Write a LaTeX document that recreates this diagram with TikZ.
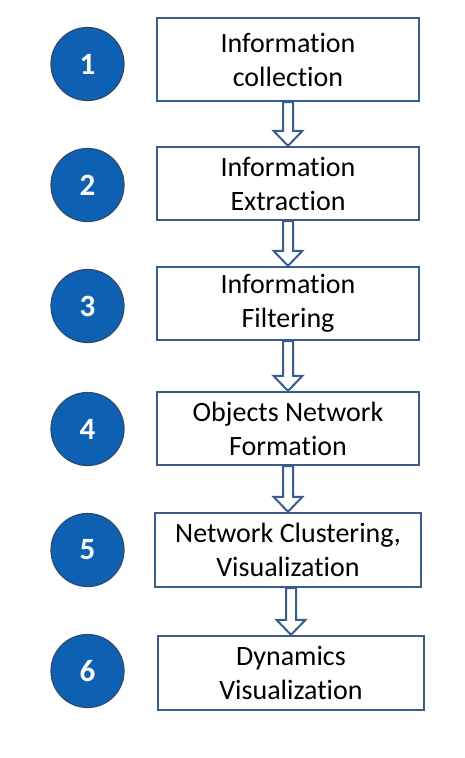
\documentclass[tikz,border=0pt]{standalone}
\usepackage{fontspec}
\setmainfont[Ligatures=NoCommon]{Carlito}
\usetikzlibrary{calc}
\definecolor{frameblue}{RGB}{56,93,138}
\definecolor{dotblue}{RGB}{14,96,178}
\tikzset{
  stepbox/.style={draw=frameblue,line width=2.4pt,fill=white,align=center,
    font=\fontsize{28}{34}\selectfont,inner sep=0pt},
  stepnum/.style={circle,draw=frameblue!80!black,line width=1.2pt,fill=dotblue,
    minimum size=73pt,inner sep=0pt,text=white,font=\fontsize{31}{34}\selectfont\bfseries},
  hollow/.style={draw=frameblue,line width=2pt,fill=white,line join=miter}
}
\begin{document}
\begin{tikzpicture}[x=1pt,y=-1pt]
\useasboundingbox (0,0) rectangle (464,758);
\foreach \i/\x/\y/\w/\h/\t in {1/288/59.5/262/83/{Information\\collection},
  2/288/183.5/262/73/{Information\\Extraction},
  3/288/303.5/262/73/{Information\\Filtering},
  4/288/428.5/262/73/{Objects Network\\Formation},
  5/288/550/266/74/{Network Clustering,\\Visualization},
  6/291/673/266/74/{Dynamics\\Visualization}}
  \node[stepbox,minimum width=\w pt,minimum height=\h pt](b\i)at(\x,\y){\t};
\foreach \i/\y in {1/64,2/185,3/306,4/429,5/550,6/671}
  \node[stepnum](n\i)at(87.5,\y){\i};
\foreach \i/\j in {1/2,2/3,3/4,4/5,5/6}
  \draw[hollow] let \p1=(b\i.south), \p2=(b\j.north) in
    (\x2,\y2) -- (\x2+14.5pt,\y2+15pt) -- (\x2+5pt,\y2+15pt) -- (\x2+5pt,\y1)
    -- (\x2-5pt,\y1) -- (\x2-5pt,\y2+15pt) -- (\x2-14.5pt,\y2+15pt) -- cycle;
\end{tikzpicture}
\end{document}
